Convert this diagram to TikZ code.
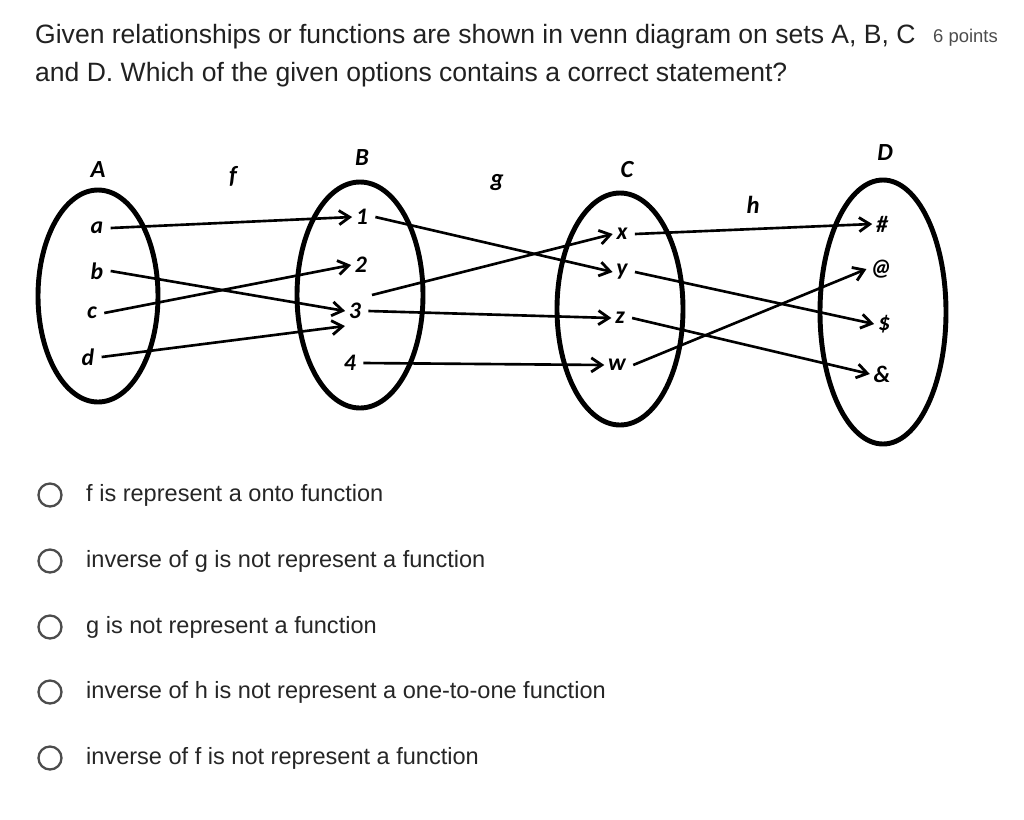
\documentclass[tikz,border=0pt]{standalone}
\usepackage{fontspec}
\usetikzlibrary{arrows.meta}
\setmainfont{Liberation Sans}
\newfontfamily\calib{Carlito}
\begin{document}
\begin{tikzpicture}[x=0.02cm,y=-0.02cm,
  set/.style={draw,line width=2.8pt},
  el/.style={font=\calib\bfseries\itshape\fontsize{13.5}{15}\selectfont,inner sep=1pt},
  lab/.style={font=\calib\bfseries\itshape\fontsize{14}{16}\selectfont},
  arr/.style={line width=1.5pt,-{Straight Barb[length=6pt,width=8pt,line width=1.6pt]}},
  radio/.style={draw=black!70,line width=1.3pt,circle,minimum size=0.46cm,inner sep=0pt},
  opt/.style={anchor=west,font=\fontsize{13.4}{16}\selectfont,text=black!85}]
\useasboundingbox (0,0) rectangle (1024,819);
\fill[white] (0,0) rectangle (1024,819);
\node[anchor=west,font=\fontsize{15.1}{18}\selectfont,text=black!87] (t1) at (29,37) {Given relationships or functions are shown in venn diagram on sets A, B, C};
\node[anchor=west,font=\fontsize{15.1}{18}\selectfont,text=black!87] (t2) at (29,75) {and D. Which of the given options contains a correct statement?};
\node[anchor=east,font=\fontsize{10.5}{12}\selectfont,text=black!70] (pts) at (1004,38) {6 points};
% sets
\draw[set] (98,296) ellipse [x radius=60,y radius=106];
\draw[set] (360,295) ellipse [x radius=63,y radius=113];
\draw[set] (620,309) ellipse [x radius=63,y radius=116];
\draw[set] (883,312) ellipse [x radius=63,y radius=132];
\node[lab] (LA) at (98,170) {A};
\node[lab] (Lf) at (233,176) {f};
\node[lab] (LB) at (362,158) {B};
\node[lab] (Lg) at (497,183) {g};
\node[lab] (LC) at (627,170) {C};
\node[lab] (Lh) at (753,205) {h};
\node[lab] (LD) at (885,153) {D};
% elements
\node[el] (a) at (97,228) {a};
\node[el] (b) at (97,271) {b};
\node[el] (c) at (92,313) {c};
\node[el] (d) at (88,357) {d};
\node[el] (n1) at (362,217) {1};
\node[el] (n2) at (361,265) {2};
\node[el] (n3) at (355,311) {3};
\node[el] (n4) at (350,363) {4};
\node[el] (x) at (622,234) {x};
\node[el] (y) at (622,272) {y};
\node[el] (z) at (620,318) {z};
\node[el] (w) at (617,365) {w};
\node[el] (h1) at (882,224) {\#};
\node[el] (h2) at (881,269) {@};
\node[el] (h3) at (884,324) {\$};
\node[el] (h4) at (882,374) {\&};
\coordinate (n3b) at (345,326);
\coordinate (n3u) at (372,295);
% f
\draw[arr] ([xshift=3pt]a.east) -- ([xshift=-1pt]n1.west);
\draw[arr] ([xshift=3pt]b.east) -- ([xshift=-1pt]n3.west);
\draw[arr] ([xshift=3pt]c.east) -- ([xshift=-1pt]n2.west);
\draw[arr] ([xshift=3pt]d.east) -- (n3b);
% g
\draw[arr] ([xshift=3pt]n1.east) -- ([xshift=-1pt]y.west);
\draw[arr] (n3u) -- ([xshift=-1pt]x.west);
\draw[arr] ([xshift=3pt]n3.east) -- ([xshift=-1pt]z.west);
\draw[arr] ([xshift=3pt]n4.east) -- ([xshift=-1pt]w.west);
% h
\draw[arr] ([xshift=3pt]x.east) -- ([xshift=-1pt]h1.west);
\draw[arr] ([xshift=3pt]y.east) -- ([xshift=-1pt]h3.west);
\draw[arr] ([xshift=3pt]z.east) -- ([xshift=-1pt]h4.west);
\draw[arr] ([xshift=3pt]w.east) -- ([xshift=-1pt]h2.west);
% options
\foreach \yy/\txt [count=\i] in {495/f is represent a onto function,
  561/inverse of g is not represent a function,
  627/g is not represent a function,
  692/inverse of h is not represent a one-to-one function,
  758/inverse of f is not represent a function}{
  \node[radio] (r\i) at (50,\yy) {};
  \node[opt] (o\i) at (80,\yy) {\txt};
}
\end{tikzpicture}
\end{document}
